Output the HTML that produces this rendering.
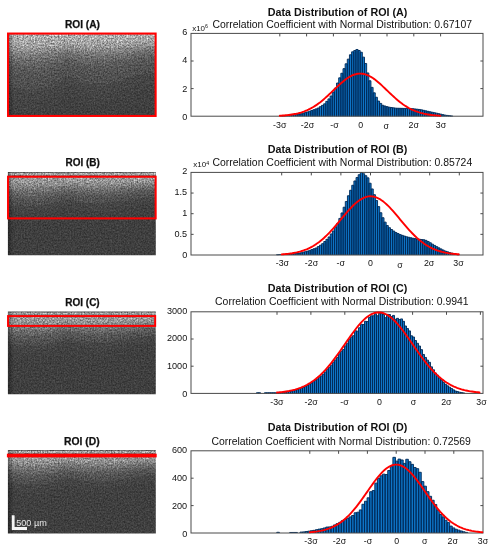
<!DOCTYPE html><html><head><meta charset="utf-8"><title>ROI data distributions</title>
<style>html,body{margin:0;padding:0;background:#fff}svg{display:block}text{font-family:"Liberation Sans",sans-serif;fill:#111}</style></head><body>
<svg width="494" height="550" viewBox="0 0 494 550">
<rect width="494" height="550" fill="#fff"/>
<defs>
<filter id="sp" x="0" y="0" width="100%" height="100%" color-interpolation-filters="sRGB">
<feTurbulence type="fractalNoise" baseFrequency="0.7 0.6" numOctaves="2" seed="11" result="t"/>
<feColorMatrix in="t" type="matrix" values="1 0 0 0 0  1 0 0 0 0  1 0 0 0 0  0 0 0 0 1" result="n"/>
<feTurbulence type="fractalNoise" baseFrequency="0.45 0.012" numOctaves="1" seed="5" result="u"/>
<feColorMatrix in="u" type="matrix" values="0 1 0 0 0  0 1 0 0 0  0 1 0 0 0  0 0 0 0 1" result="st"/>
<feColorMatrix in="SourceGraphic" type="matrix" values="1 0 0 0 0  1 0 0 0 0  1 0 0 0 0  0 0 0 0 1" result="S"/>
<feColorMatrix in="SourceGraphic" type="matrix" values="0 1 0 0 0  0 1 0 0 0  0 1 0 0 0  0 0 0 0 1" result="B"/>
<feComposite in="S" in2="n" operator="arithmetic" k1="0.96" k2="0.52" k3="0" k4="0" result="P"/>
<feComposite in="B" in2="n" operator="arithmetic" k1="1.3" k2="-0.15" k3="0" k4="0" result="R"/>
<feComposite in="R" in2="st" operator="arithmetic" k1="0.7" k2="0.65" k3="0" k4="0" result="R2"/>
<feComposite in="P" in2="R2" operator="arithmetic" k1="0" k2="1" k3="1" k4="0" result="O"/>
<feGaussianBlur in="O" stdDeviation="0.55"/>
</filter>
<filter id="bl" x="-10%" y="-30%" width="120%" height="160%"><feGaussianBlur stdDeviation="3"/></filter>
</defs>
<defs><linearGradient id="gA" x1="0" y1="0" x2="0" y2="1">
<stop offset="0" stop-color="rgb(145,62,0)"/>
<stop offset="0.06" stop-color="rgb(142,60,0)"/>
<stop offset="0.13" stop-color="rgb(133,54,0)"/>
<stop offset="0.19" stop-color="rgb(117,41,0)"/>
<stop offset="0.25" stop-color="rgb(101,29,0)"/>
<stop offset="0.31" stop-color="rgb(90,20,0)"/>
<stop offset="0.38" stop-color="rgb(82,14,0)"/>
<stop offset="0.48" stop-color="rgb(75,9,0)"/>
<stop offset="0.6" stop-color="rgb(70,6,0)"/>
<stop offset="0.78" stop-color="rgb(66,2,0)"/>
<stop offset="1" stop-color="rgb(63,0,0)"/>
</linearGradient><linearGradient id="gF" x1="0" y1="0" x2="0" y2="1">
<stop offset="0" stop-color="rgb(132,52,0)"/>
<stop offset="0.05" stop-color="rgb(130,51,0)"/>
<stop offset="0.12" stop-color="rgb(126,48,0)"/>
<stop offset="0.2" stop-color="rgb(116,40,0)"/>
<stop offset="0.27" stop-color="rgb(104,31,0)"/>
<stop offset="0.34" stop-color="rgb(93,23,0)"/>
<stop offset="0.42" stop-color="rgb(84,16,0)"/>
<stop offset="0.5" stop-color="rgb(77,10,0)"/>
<stop offset="0.62" stop-color="rgb(70,6,0)"/>
<stop offset="0.78" stop-color="rgb(66,2,0)"/>
<stop offset="1" stop-color="rgb(63,0,0)"/>
</linearGradient><linearGradient id="le" x1="0" y1="0" x2="1" y2="0"><stop offset="0" stop-color="#000" stop-opacity="0.35"/><stop offset="1" stop-color="#000" stop-opacity="0"/></linearGradient><filter id="hb" x="-10%" y="-10%" width="120%" height="120%"><feGaussianBlur stdDeviation="5 0.6"/></filter></defs>
<clipPath id="c0"><rect x="7.9" y="33.5" width="147.9" height="82.5"/></clipPath>
<g clip-path="url(#c0)"><g filter="url(#sp)">
<rect x="2.9000000000000004" y="28.5" width="157.9" height="92.5" fill="rgb(63,0,0)"/>
<g filter="url(#hb)">
<rect x="-1.34" y="33.5" width="9.54" height="89.5" fill="url(#gA)"/>
<rect x="7.90" y="33.5" width="9.54" height="92.5" fill="url(#gA)"/>
<rect x="17.14" y="33.5" width="9.54" height="95.9" fill="url(#gA)"/>
<rect x="26.39" y="33.5" width="9.54" height="98.7" fill="url(#gA)"/>
<rect x="35.63" y="33.5" width="9.54" height="95.2" fill="url(#gA)"/>
<rect x="44.88" y="33.5" width="9.54" height="91.8" fill="url(#gA)"/>
<rect x="54.12" y="33.5" width="9.54" height="83.5" fill="url(#gA)"/>
<rect x="63.36" y="33.5" width="9.54" height="75.0" fill="url(#gA)"/>
<rect x="72.61" y="33.5" width="9.54" height="82.2" fill="url(#gA)"/>
<rect x="81.85" y="33.5" width="9.54" height="86.5" fill="url(#gA)"/>
<rect x="91.09" y="33.5" width="9.54" height="87.9" fill="url(#gA)"/>
<rect x="100.34" y="33.5" width="9.54" height="88.7" fill="url(#gA)"/>
<rect x="109.58" y="33.5" width="9.54" height="84.2" fill="url(#gA)"/>
<rect x="118.83" y="33.5" width="9.54" height="79.7" fill="url(#gA)"/>
<rect x="128.07" y="33.5" width="9.54" height="74.8" fill="url(#gA)"/>
<rect x="137.31" y="33.5" width="9.54" height="69.9" fill="url(#gA)"/>
<rect x="146.56" y="33.5" width="9.54" height="68.1" fill="url(#gA)"/>
<rect x="155.80" y="33.5" width="9.54" height="66.3" fill="url(#gA)"/>
</g>
<rect x="7.9" y="33.5" width="6" height="82.5" fill="url(#le)"/>
</g></g>
<clipPath id="c1"><rect x="7.9" y="171.9" width="147.9" height="83.4"/></clipPath>
<g clip-path="url(#c1)"><g filter="url(#sp)">
<rect x="2.9000000000000004" y="166.9" width="157.9" height="93.4" fill="rgb(63,0,0)"/>
<g filter="url(#hb)">
<rect x="-1.34" y="176.4" width="9.54" height="44.8" fill="url(#gF)"/>
<rect x="7.90" y="176.4" width="9.54" height="46.3" fill="url(#gF)"/>
<rect x="17.14" y="176.4" width="9.54" height="48.0" fill="url(#gF)"/>
<rect x="26.39" y="176.4" width="9.54" height="49.4" fill="url(#gF)"/>
<rect x="35.63" y="176.4" width="9.54" height="47.7" fill="url(#gF)"/>
<rect x="44.88" y="176.4" width="9.54" height="45.9" fill="url(#gF)"/>
<rect x="54.12" y="176.4" width="9.54" height="41.8" fill="url(#gF)"/>
<rect x="63.36" y="176.4" width="9.54" height="37.5" fill="url(#gF)"/>
<rect x="72.61" y="176.4" width="9.54" height="41.1" fill="url(#gF)"/>
<rect x="81.85" y="176.4" width="9.54" height="43.3" fill="url(#gF)"/>
<rect x="91.09" y="176.4" width="9.54" height="44.0" fill="url(#gF)"/>
<rect x="100.34" y="176.4" width="9.54" height="44.4" fill="url(#gF)"/>
<rect x="109.58" y="176.4" width="9.54" height="42.1" fill="url(#gF)"/>
<rect x="118.83" y="176.4" width="9.54" height="39.9" fill="url(#gF)"/>
<rect x="128.07" y="176.4" width="9.54" height="37.4" fill="url(#gF)"/>
<rect x="137.31" y="176.4" width="9.54" height="35.0" fill="url(#gF)"/>
<rect x="146.56" y="176.4" width="9.54" height="34.1" fill="url(#gF)"/>
<rect x="155.80" y="176.4" width="9.54" height="33.2" fill="url(#gF)"/>
</g>
<rect x="7.9" y="171.9" width="147.9" height="0.9" fill="rgb(83,15,0)"/>
<rect x="7.9" y="172.8" width="147.9" height="2.4" fill="rgb(138,57,0)"/>
<rect x="7.9" y="175.1" width="147.9" height="1.3" fill="rgb(110,36,0)"/>
<rect x="7.9" y="171.9" width="6" height="83.4" fill="url(#le)"/>
</g></g>
<clipPath id="c2"><rect x="7.9" y="311.5" width="147.9" height="82.69999999999999"/></clipPath>
<g clip-path="url(#c2)"><g filter="url(#sp)">
<rect x="2.9000000000000004" y="306.5" width="157.9" height="92.69999999999999" fill="rgb(63,0,0)"/>
<g filter="url(#hb)">
<rect x="-1.34" y="316.0" width="9.54" height="44.4" fill="url(#gF)"/>
<rect x="7.90" y="316.0" width="9.54" height="45.9" fill="url(#gF)"/>
<rect x="17.14" y="316.0" width="9.54" height="47.6" fill="url(#gF)"/>
<rect x="26.39" y="316.0" width="9.54" height="49.0" fill="url(#gF)"/>
<rect x="35.63" y="316.0" width="9.54" height="47.3" fill="url(#gF)"/>
<rect x="44.88" y="316.0" width="9.54" height="45.5" fill="url(#gF)"/>
<rect x="54.12" y="316.0" width="9.54" height="41.5" fill="url(#gF)"/>
<rect x="63.36" y="316.0" width="9.54" height="37.2" fill="url(#gF)"/>
<rect x="72.61" y="316.0" width="9.54" height="40.8" fill="url(#gF)"/>
<rect x="81.85" y="316.0" width="9.54" height="42.9" fill="url(#gF)"/>
<rect x="91.09" y="316.0" width="9.54" height="43.6" fill="url(#gF)"/>
<rect x="100.34" y="316.0" width="9.54" height="44.0" fill="url(#gF)"/>
<rect x="109.58" y="316.0" width="9.54" height="41.8" fill="url(#gF)"/>
<rect x="118.83" y="316.0" width="9.54" height="39.6" fill="url(#gF)"/>
<rect x="128.07" y="316.0" width="9.54" height="37.1" fill="url(#gF)"/>
<rect x="137.31" y="316.0" width="9.54" height="34.7" fill="url(#gF)"/>
<rect x="146.56" y="316.0" width="9.54" height="33.8" fill="url(#gF)"/>
<rect x="155.80" y="316.0" width="9.54" height="32.9" fill="url(#gF)"/>
</g>
<rect x="7.9" y="311.5" width="147.9" height="0.9" fill="rgb(83,15,0)"/>
<rect x="7.9" y="312.4" width="147.9" height="2.4" fill="rgb(138,57,0)"/>
<rect x="7.9" y="314.7" width="147.9" height="1.3" fill="rgb(110,36,0)"/>
<rect x="7.9" y="311.5" width="6" height="82.69999999999999" fill="url(#le)"/>
</g></g>
<clipPath id="c3"><rect x="7.9" y="449.9" width="147.9" height="83.60000000000002"/></clipPath>
<g clip-path="url(#c3)"><g filter="url(#sp)">
<rect x="2.9000000000000004" y="444.9" width="157.9" height="93.60000000000002" fill="rgb(63,0,0)"/>
<g filter="url(#hb)">
<rect x="-1.34" y="454.4" width="9.54" height="44.9" fill="url(#gF)"/>
<rect x="7.90" y="454.4" width="9.54" height="46.4" fill="url(#gF)"/>
<rect x="17.14" y="454.4" width="9.54" height="48.1" fill="url(#gF)"/>
<rect x="26.39" y="454.4" width="9.54" height="49.5" fill="url(#gF)"/>
<rect x="35.63" y="454.4" width="9.54" height="47.8" fill="url(#gF)"/>
<rect x="44.88" y="454.4" width="9.54" height="46.0" fill="url(#gF)"/>
<rect x="54.12" y="454.4" width="9.54" height="41.9" fill="url(#gF)"/>
<rect x="63.36" y="454.4" width="9.54" height="37.6" fill="url(#gF)"/>
<rect x="72.61" y="454.4" width="9.54" height="41.2" fill="url(#gF)"/>
<rect x="81.85" y="454.4" width="9.54" height="43.4" fill="url(#gF)"/>
<rect x="91.09" y="454.4" width="9.54" height="44.1" fill="url(#gF)"/>
<rect x="100.34" y="454.4" width="9.54" height="44.5" fill="url(#gF)"/>
<rect x="109.58" y="454.4" width="9.54" height="42.2" fill="url(#gF)"/>
<rect x="118.83" y="454.4" width="9.54" height="40.0" fill="url(#gF)"/>
<rect x="128.07" y="454.4" width="9.54" height="37.5" fill="url(#gF)"/>
<rect x="137.31" y="454.4" width="9.54" height="35.1" fill="url(#gF)"/>
<rect x="146.56" y="454.4" width="9.54" height="34.2" fill="url(#gF)"/>
<rect x="155.80" y="454.4" width="9.54" height="33.3" fill="url(#gF)"/>
</g>
<rect x="7.9" y="449.9" width="147.9" height="0.9" fill="rgb(83,15,0)"/>
<rect x="7.9" y="450.79999999999995" width="147.9" height="2.4" fill="rgb(138,57,0)"/>
<rect x="7.9" y="453.09999999999997" width="147.9" height="1.3" fill="rgb(110,36,0)"/>
<rect x="7.9" y="449.9" width="6" height="83.60000000000002" fill="url(#le)"/>
</g></g>
<rect x="8.05" y="33.55" width="147.6" height="82.4" fill="none" stroke="#ff0000" stroke-width="2.05"/>
<rect x="8.05" y="176.7" width="147.6" height="41.7" fill="none" stroke="#ff0000" stroke-width="2.05"/>
<rect x="8.05" y="316.1" width="147.1" height="9.8" fill="none" stroke="#ff0000" stroke-width="2.0"/>
<rect x="6.9" y="453.7" width="149.8" height="3.7" fill="#ff0000"/>
<path d="M13.2 515.3V528.5H27" fill="none" stroke="#f4f4f4" stroke-width="2.8"/>
<text x="16.2" y="526.4" font-size="8.6" text-anchor="start" textLength="30.7" lengthAdjust="spacingAndGlyphs" style="fill:#e4e4e4">500 µm</text>
<text x="82.4" y="27.7" font-size="10.8" text-anchor="middle" font-weight="bold" textLength="35" lengthAdjust="spacingAndGlyphs" stroke="#111" stroke-width="0.25">ROI (A)</text>
<text x="82.7" y="166.1" font-size="10.8" text-anchor="middle" font-weight="bold" textLength="34.4" lengthAdjust="spacingAndGlyphs" stroke="#111" stroke-width="0.25">ROI (B)</text>
<text x="82.5" y="305.7" font-size="10.8" text-anchor="middle" font-weight="bold" textLength="34.4" lengthAdjust="spacingAndGlyphs" stroke="#111" stroke-width="0.25">ROI (C)</text>
<text x="81.8" y="444.7" font-size="10.8" text-anchor="middle" font-weight="bold" textLength="35.6" lengthAdjust="spacingAndGlyphs" stroke="#111" stroke-width="0.25">ROI (D)</text>
<g fill="#0e74c6" stroke="#012a58" stroke-width="0.92">
<path d="M280.65 116.20V115.80H282.80V116.20M282.80 116.20V115.65H284.95V116.20M284.95 116.20V115.49H287.10V116.20M287.10 116.20V115.33H289.25V116.20M289.25 116.20V115.16H291.40V116.20M291.40 116.20V114.87H293.55V116.20M293.55 116.20V114.58H295.70V116.20M295.70 116.20V114.30H297.85V116.20M297.85 116.20V114.01H300.00V116.20M300.00 116.20V113.72H302.15V116.20M302.15 116.20V113.23H304.30V116.20M304.30 116.20V112.59H306.45V116.20M306.45 116.20V111.94H308.60V116.20M308.60 116.20V111.30H310.75V116.20M310.75 116.20V110.52H312.90V116.20M312.90 116.20V109.71H315.05V116.20M315.05 116.20V108.90H317.20V116.20M317.20 116.20V108.03H319.35V116.20M319.35 116.20V106.68H321.50V116.20M321.50 116.20V105.34H323.65V116.20M323.65 116.20V103.83H325.80V116.20M325.80 116.20V101.36H327.95V116.20M327.95 116.20V98.89H330.10V116.20M330.10 116.20V95.99H332.25V116.20M332.25 116.20V92.12H334.40V116.20M334.40 116.20V88.25H336.55V116.20M336.55 116.20V83.02H338.70V116.20M338.70 116.20V77.83H340.85V116.20M340.85 116.20V73.26H343.00V116.20M343.00 116.20V68.63H345.15V116.20M345.15 116.20V63.81H347.30V116.20M347.30 116.20V59.13H349.45V116.20M349.45 116.20V54.78H351.60V116.20M351.60 116.20V51.83H353.75V116.20M353.75 116.20V50.56H355.90V116.20M355.90 116.20V49.49H358.05V116.20M358.05 116.20V50.53H360.20V116.20M360.20 116.20V52.25H362.35V116.20M362.35 116.20V57.14H364.50V116.20M364.50 116.20V63.47H366.65V116.20M366.65 116.20V72.93H368.80V116.20M368.80 116.20V80.77H370.95V116.20M370.95 116.20V87.39H373.10V116.20M373.10 116.20V92.82H375.25V116.20M375.25 116.20V97.25H377.40V116.20M377.40 116.20V101.07H379.55V116.20M379.55 116.20V103.42H381.70V116.20M381.70 116.20V105.30H383.85V116.20M383.85 116.20V106.05H386.00V116.20M386.00 116.20V106.65H388.15V116.20M388.15 116.20V107.23H390.30V116.20M390.30 116.20V107.54H392.45V116.20M392.45 116.20V107.85H394.60V116.20M394.60 116.20V108.15H396.75V116.20M396.75 116.20V108.25H398.90V116.20M398.90 116.20V108.30H401.05V116.20M401.05 116.20V108.35H403.20V116.20M403.20 116.20V108.41H405.35V116.20M405.35 116.20V108.46H407.50V116.20M407.50 116.20V108.51H409.65V116.20M409.65 116.20V108.57H411.80V116.20M411.80 116.20V108.70H413.95V116.20M413.95 116.20V108.96H416.10V116.20M416.10 116.20V109.21H418.25V116.20M418.25 116.20V109.46H420.40V116.20M420.40 116.20V109.83H422.55V116.20M422.55 116.20V110.33H424.70V116.20M424.70 116.20V110.84H426.85V116.20M426.85 116.20V111.34H429.00V116.20M429.00 116.20V111.81H431.15V116.20M431.15 116.20V112.26H433.30V116.20M433.30 116.20V112.71H435.45V116.20M435.45 116.20V113.16H437.60V116.20M437.60 116.20V113.66H439.75V116.20M439.75 116.20V114.17H441.90V116.20M441.90 116.20V114.67H444.05V116.20M444.05 116.20V115.14H446.20V116.20M446.20 116.20V115.41H448.35V116.20M448.35 116.20V115.68H450.50V116.20M450.50 116.20V115.95H452.65V116.20"/>
</g>
<rect x="191" y="33.4" width="292.0" height="82.80000000000001" fill="none" stroke="#4a4a4a" stroke-width="1"/>
<path d="M279.80 33.4v3M279.80 116.2v-0M306.60 33.4v3M306.60 116.2v-0M333.40 33.4v3M333.40 116.2v-0M360.20 33.4v3M360.20 116.2v-0M387.00 33.4v3M387.00 116.2v-0M413.80 33.4v3M413.80 116.2v-0M440.60 33.4v3M440.60 116.2v-0M191 88.60h2.6M483.0 88.60h-2.6M191 61.00h2.6M483.0 61.00h-2.6" fill="none" stroke="#4a4a4a" stroke-width="1"/>
<polyline points="279.8,115.73 281.3,115.64 282.8,115.54 284.3,115.43 285.8,115.30 287.3,115.15 288.8,114.98 290.3,114.78 291.8,114.56 293.3,114.31 294.8,114.03 296.3,113.72 297.8,113.37 299.3,112.98 300.8,112.55 302.3,112.07 303.8,111.55 305.3,110.97 306.8,110.35 308.3,109.67 309.8,108.93 311.3,108.14 312.8,107.28 314.3,106.37 315.8,105.40 317.3,104.37 318.8,103.28 320.3,102.14 321.8,100.94 323.3,99.69 324.8,98.40 326.3,97.06 327.8,95.69 329.3,94.29 330.8,92.86 332.3,91.42 333.8,89.98 335.3,88.53 336.8,87.10 338.3,85.69 339.8,84.31 341.3,82.98 342.8,81.70 344.3,80.47 345.8,79.33 347.3,78.26 348.8,77.28 350.3,76.41 351.8,75.64 353.3,74.99 354.8,74.46 356.3,74.05 357.8,73.77 359.3,73.62 360.8,73.61 362.3,73.73 363.8,73.98 365.3,74.36 366.8,74.87 368.3,75.50 369.8,76.25 371.3,77.10 372.8,78.06 374.3,79.11 375.8,80.24 377.3,81.45 378.8,82.72 380.3,84.04 381.8,85.41 383.3,86.82 384.8,88.25 386.3,89.69 387.8,91.13 389.3,92.57 390.8,94.00 392.3,95.41 393.8,96.79 395.3,98.13 396.8,99.43 398.3,100.69 399.8,101.90 401.3,103.06 402.8,104.16 404.3,105.20 405.8,106.18 407.3,107.11 408.8,107.97 410.3,108.78 411.8,109.53 413.3,110.22 414.8,110.85 416.3,111.44 417.8,111.97 419.3,112.46 420.8,112.90 422.3,113.29 423.8,113.65 425.3,113.97 426.8,114.26 428.3,114.51 429.8,114.74 431.3,114.94 432.8,115.11 434.3,115.27 435.8,115.40 437.3,115.52 438.8,115.62 440.3,115.71" fill="none" stroke="#ff0000" stroke-width="1.9" stroke-linejoin="round" stroke-linecap="round"/>
<text x="187.2" y="119.7" font-size="9.1" text-anchor="end">0</text>
<text x="187.2" y="91.5" font-size="9.1" text-anchor="end">2</text>
<text x="187.2" y="63.3" font-size="9.1" text-anchor="end">4</text>
<text x="187.2" y="35.2" font-size="9.1" text-anchor="end">6</text>
<text x="279.7" y="127.6" font-size="8.8" text-anchor="middle">-3σ</text>
<text x="307.5" y="127.6" font-size="8.8" text-anchor="middle">-2σ</text>
<text x="334.4" y="128.2" font-size="8.8" text-anchor="middle">-σ</text>
<text x="360.6" y="127.6" font-size="8.8" text-anchor="middle">0</text>
<text x="386.2" y="129.2" font-size="8.8" text-anchor="middle">σ</text>
<text x="413.7" y="127.6" font-size="8.8" text-anchor="middle">2σ</text>
<text x="441.0" y="127.6" font-size="8.8" text-anchor="middle">3σ</text>
<text x="192.2" y="30.9" font-size="7.6" textLength="15.8" lengthAdjust="spacingAndGlyphs">x10<tspan font-size="5" dy="-2.8">6</tspan></text>
<text x="337.6" y="15.8" font-size="10.5" text-anchor="middle" font-weight="bold" textLength="139.6" lengthAdjust="spacingAndGlyphs">Data Distribution of ROI (A)</text>
<text x="212.4" y="27.9" font-size="10.1" text-anchor="start" textLength="259.6" lengthAdjust="spacingAndGlyphs">Correlation Coefficient with Normal Distribution: 0.67107</text>
<g fill="#0e74c6" stroke="#012a58" stroke-width="0.92">
<path d="M276.50 255.00V254.74H278.65V255.00M278.65 255.00V254.61H280.80V255.00M280.80 255.00V254.50H282.95V255.00M282.95 255.00V254.39H285.10V255.00M285.10 255.00V254.29H287.25V255.00M287.25 255.00V254.18H289.40V255.00M289.40 255.00V254.07H291.55V255.00M291.55 255.00V253.93H293.70V255.00M293.70 255.00V253.66H295.85V255.00M295.85 255.00V253.39H298.00V255.00M298.00 255.00V253.12H300.15V255.00M300.15 255.00V252.73H302.30V255.00M302.30 255.00V252.19H304.45V255.00M304.45 255.00V251.66H306.60V255.00M306.60 255.00V251.12H308.75V255.00M308.75 255.00V250.39H310.90V255.00M310.90 255.00V249.59H313.05V255.00M313.05 255.00V248.78H315.20V255.00M315.20 255.00V247.98H317.35V255.00M317.35 255.00V246.59H319.50V255.00M319.50 255.00V245.16H321.65V255.00M321.65 255.00V243.65H323.80V255.00M323.80 255.00V241.50H325.95V255.00M325.95 255.00V239.35H328.10V255.00M328.10 255.00V236.96H330.25V255.00M330.25 255.00V233.95H332.40V255.00M332.40 255.00V230.94H334.55V255.00M334.55 255.00V227.24H336.70V255.00M336.70 255.00V223.43H338.85V255.00M338.85 255.00V218.41H341.00V255.00M341.00 255.00V212.95H343.15V255.00M343.15 255.00V207.22H345.30V255.00M345.30 255.00V201.48H347.45V255.00M347.45 255.00V195.75H349.60V255.00M349.60 255.00V190.29H351.75V255.00M351.75 255.00V185.28H353.90V255.00M353.90 255.00V180.96H356.05V255.00M356.05 255.00V177.47H358.20V255.00M358.20 255.00V174.71H360.35V255.00M360.35 255.00V172.56H362.50V255.00M362.50 255.00V173.72H364.65V255.00M364.65 255.00V175.70H366.80V255.00M366.80 255.00V177.85H368.95V255.00M368.95 255.00V183.22H371.10V255.00M371.10 255.00V188.95H373.25V255.00M373.25 255.00V194.68H375.40V255.00M375.40 255.00V200.42H377.55V255.00M377.55 255.00V206.62H379.70V255.00M379.70 255.00V212.72H381.85V255.00M381.85 255.00V217.74H384.00V255.00M384.00 255.00V222.15H386.15V255.00M386.15 255.00V225.54H388.30V255.00M388.30 255.00V227.69H390.45V255.00M390.45 255.00V229.52H392.60V255.00M392.60 255.00V231.07H394.75V255.00M394.75 255.00V232.52H396.90V255.00M396.90 255.00V233.55H399.05V255.00M399.05 255.00V234.58H401.20V255.00M401.20 255.00V235.35H403.35V255.00M403.35 255.00V236.07H405.50V255.00M405.50 255.00V236.79H407.65V255.00M407.65 255.00V237.29H409.80V255.00M409.80 255.00V237.79H411.95V255.00M411.95 255.00V238.26H414.10V255.00M414.10 255.00V238.62H416.25V255.00M416.25 255.00V238.98H418.40V255.00M418.40 255.00V239.29H420.55V255.00M420.55 255.00V239.50H422.70V255.00M422.70 255.00V239.72H424.85V255.00M424.85 255.00V240.39H427.00V255.00M427.00 255.00V241.47H429.15V255.00M429.15 255.00V242.75H431.30V255.00M431.30 255.00V244.15H433.45V255.00M433.45 255.00V245.41H435.60V255.00M435.60 255.00V246.63H437.75V255.00M437.75 255.00V247.85H439.90V255.00M439.90 255.00V248.93H442.05V255.00M442.05 255.00V250.00H444.20V255.00M444.20 255.00V251.04H446.35V255.00M446.35 255.00V251.75H448.50V255.00M448.50 255.00V252.47H450.65V255.00M450.65 255.00V253.14H452.80V255.00M452.80 255.00V253.72H454.95V255.00M454.95 255.00V254.29H457.10V255.00M457.10 255.00V254.74H459.25V255.00"/>
</g>
<rect x="191" y="172.4" width="292.0" height="82.6" fill="none" stroke="#4a4a4a" stroke-width="1"/>
<path d="M281.70 172.4v3M281.70 255v-0M311.30 172.4v3M311.30 255v-0M340.90 172.4v3M340.90 255v-0M370.50 172.4v3M370.50 255v-0M400.10 172.4v3M400.10 255v-0M429.70 172.4v3M429.70 255v-0M459.30 172.4v3M459.30 255v-0M191 234.35h2.6M483.0 234.35h-2.6M191 213.70h2.6M483.0 213.70h-2.6M191 193.05h2.6M483.0 193.05h-2.6" fill="none" stroke="#4a4a4a" stroke-width="1"/>
<polyline points="281.7,254.35 283.2,254.24 284.7,254.12 286.2,253.98 287.7,253.83 289.2,253.65 290.7,253.45 292.2,253.23 293.7,252.97 295.2,252.69 296.7,252.38 298.2,252.03 299.7,251.64 301.2,251.21 302.7,250.74 304.2,250.22 305.7,249.65 307.2,249.04 308.7,248.36 310.2,247.63 311.7,246.84 313.2,245.99 314.7,245.07 316.2,244.09 317.7,243.04 319.2,241.93 320.7,240.74 322.2,239.50 323.7,238.18 325.2,236.80 326.7,235.36 328.2,233.86 329.7,232.30 331.2,230.69 332.7,229.03 334.2,227.33 335.7,225.59 337.2,223.82 338.7,222.04 340.2,220.24 341.7,218.43 343.2,216.64 344.7,214.85 346.2,213.09 347.7,211.37 349.2,209.69 350.7,208.07 352.2,206.51 353.7,205.03 355.2,203.64 356.7,202.35 358.2,201.16 359.7,200.08 361.2,199.13 362.7,198.30 364.2,197.61 365.7,197.07 367.2,196.66 368.7,196.41 370.2,196.30 371.7,196.35 373.2,196.54 374.7,196.89 376.2,197.38 377.7,198.01 379.2,198.78 380.7,199.68 382.2,200.71 383.7,201.86 385.2,203.11 386.7,204.46 388.2,205.91 389.7,207.44 391.2,209.03 392.7,210.69 394.2,212.40 395.7,214.14 397.2,215.92 398.7,217.71 400.2,219.52 401.7,221.32 403.2,223.11 404.7,224.89 406.2,226.64 407.7,228.35 409.2,230.03 410.7,231.66 412.2,233.24 413.7,234.76 415.2,236.23 416.7,237.64 418.2,238.98 419.7,240.25 421.2,241.46 422.7,242.60 424.2,243.68 425.7,244.69 427.2,245.63 428.7,246.51 430.2,247.32 431.7,248.08 433.2,248.77 434.7,249.41 436.2,250.00 437.7,250.54 439.2,251.03 440.7,251.47 442.2,251.88 443.7,252.24 445.2,252.57 446.7,252.86 448.2,253.13 449.7,253.36 451.2,253.57 452.7,253.76 454.2,253.92 455.7,254.07 457.2,254.20 458.7,254.31" fill="none" stroke="#ff0000" stroke-width="1.9" stroke-linejoin="round" stroke-linecap="round"/>
<text x="187.2" y="258.4" font-size="9.1" text-anchor="end">0</text>
<text x="187.2" y="237.4" font-size="9.1" text-anchor="end">0.5</text>
<text x="187.2" y="216.3" font-size="9.1" text-anchor="end">1</text>
<text x="187.2" y="195.2" font-size="9.1" text-anchor="end">1.5</text>
<text x="187.2" y="174.2" font-size="9.1" text-anchor="end">2</text>
<text x="282.4" y="266.4" font-size="8.8" text-anchor="middle">-3σ</text>
<text x="311.5" y="266.4" font-size="8.8" text-anchor="middle">-2σ</text>
<text x="340.7" y="266.4" font-size="8.8" text-anchor="middle">-σ</text>
<text x="370.4" y="266.4" font-size="8.8" text-anchor="middle">0</text>
<text x="400.0" y="267.5" font-size="8.8" text-anchor="middle">σ</text>
<text x="429.1" y="266.4" font-size="8.8" text-anchor="middle">2σ</text>
<text x="458.5" y="266.4" font-size="8.8" text-anchor="middle">3σ</text>
<text x="193.3" y="167.3" font-size="7.6" textLength="15.8" lengthAdjust="spacingAndGlyphs">x10<tspan font-size="5" dy="-2.8">4</tspan></text>
<text x="337.6" y="153.3" font-size="10.5" text-anchor="middle" font-weight="bold" textLength="139.6" lengthAdjust="spacingAndGlyphs">Data Distribution of ROI (B)</text>
<text x="212.4" y="166.4" font-size="10.1" text-anchor="start" textLength="259.8" lengthAdjust="spacingAndGlyphs">Correlation Coefficient with Normal Distribution: 0.85724</text>
<g fill="#0e74c6" stroke="#012a58" stroke-width="0.92">
<path d="M256.50 393.40V392.71H258.50V393.40M258.50 393.40V392.69H260.50V393.40M264.50 393.40V392.71H266.50V393.40M266.50 393.40V392.72H268.50V393.40M268.50 393.40V392.70H270.50V393.40M270.50 393.40V392.72H272.50V393.40M272.50 393.40V392.70H274.50V393.40M274.50 393.40V392.72H276.50V393.40M276.50 393.40V392.93H278.50V393.40M278.50 393.40V392.75H280.50V393.40M280.50 393.40V392.54H282.50V393.40M282.50 393.40V392.35H284.50V393.40M284.50 393.40V392.08H286.50V393.40M286.50 393.40V391.75H288.50V393.40M288.50 393.40V391.36H290.50V393.40M290.50 393.40V391.00H292.50V393.40M292.50 393.40V390.58H294.50V393.40M294.50 393.40V389.96H296.50V393.40M296.50 393.40V389.58H298.50V393.40M298.50 393.40V388.74H300.50V393.40M300.50 393.40V388.17H302.50V393.40M302.50 393.40V387.42H304.50V393.40M304.50 393.40V386.55H306.50V393.40M306.50 393.40V385.50H308.50V393.40M308.50 393.40V384.16H310.50V393.40M310.50 393.40V383.31H312.50V393.40M312.50 393.40V381.77H314.50V393.40M314.50 393.40V380.31H316.50V393.40M316.50 393.40V378.98H318.50V393.40M318.50 393.40V377.18H320.50V393.40M320.50 393.40V375.90H322.50V393.40M322.50 393.40V374.07H324.50V393.40M324.50 393.40V371.94H326.50V393.40M326.50 393.40V369.22H328.50V393.40M328.50 393.40V367.31H330.50V393.40M330.50 393.40V365.14H332.50V393.40M332.50 393.40V362.22H334.50V393.40M334.50 393.40V359.89H336.50V393.40M336.50 393.40V357.57H338.50V393.40M338.50 393.40V353.81H340.50V393.40M340.50 393.40V351.22H342.50V393.40M342.50 393.40V349.52H344.50V393.40M344.50 393.40V345.86H346.50V393.40M346.50 393.40V343.16H348.50V393.40M348.50 393.40V339.31H350.50V393.40M350.50 393.40V336.94H352.50V393.40M352.50 393.40V335.65H354.50V393.40M354.50 393.40V330.69H356.50V393.40M356.50 393.40V331.18H358.50V393.40M358.50 393.40V327.74H360.50V393.40M360.50 393.40V324.22H362.50V393.40M362.50 393.40V324.51H364.50V393.40M364.50 393.40V321.32H366.50V393.40M366.50 393.40V321.52H368.50V393.40M368.50 393.40V317.47H370.50V393.40M370.50 393.40V315.85H372.50V393.40M372.50 393.40V315.72H374.50V393.40M374.50 393.40V313.71H376.50V393.40M376.50 393.40V315.76H378.50V393.40M378.50 393.40V313.04H380.50V393.40M380.50 393.40V313.49H382.50V393.40M382.50 393.40V314.37H384.50V393.40M384.50 393.40V317.68H386.50V393.40M386.50 393.40V314.37H388.50V393.40M388.50 393.40V314.53H390.50V393.40M390.50 393.40V316.56H392.50V393.40M392.50 393.40V315.42H394.50V393.40M394.50 393.40V319.30H396.50V393.40M396.50 393.40V318.34H398.50V393.40M398.50 393.40V319.57H400.50V393.40M400.50 393.40V318.91H402.50V393.40M402.50 393.40V321.30H404.50V393.40M404.50 393.40V325.99H406.50V393.40M406.50 393.40V328.58H408.50V393.40M408.50 393.40V330.91H410.50V393.40M410.50 393.40V335.79H412.50V393.40M412.50 393.40V336.99H414.50V393.40M414.50 393.40V340.54H416.50V393.40M416.50 393.40V343.29H418.50V393.40M418.50 393.40V346.03H420.50V393.40M420.50 393.40V349.65H422.50V393.40M422.50 393.40V354.46H424.50V393.40M424.50 393.40V357.44H426.50V393.40M426.50 393.40V360.13H428.50V393.40M428.50 393.40V362.29H430.50V393.40M430.50 393.40V366.87H432.50V393.40M432.50 393.40V369.80H434.50V393.40M434.50 393.40V373.06H436.50V393.40M436.50 393.40V375.23H438.50V393.40M438.50 393.40V377.84H440.50V393.40M440.50 393.40V380.04H442.50V393.40M442.50 393.40V382.45H444.50V393.40M444.50 393.40V384.31H446.50V393.40M446.50 393.40V385.82H448.50V393.40M448.50 393.40V387.13H450.50V393.40M450.50 393.40V388.46H452.50V393.40M452.50 393.40V389.86H454.50V393.40M454.50 393.40V390.98H456.50V393.40M456.50 393.40V391.57H458.50V393.40M458.50 393.40V392.16H460.50V393.40M460.50 393.40V392.58H462.50V393.40M462.50 393.40V392.89H464.50V393.40"/>
</g>
<rect x="191" y="311.8" width="292.0" height="81.59999999999997" fill="none" stroke="#4a4a4a" stroke-width="1"/>
<path d="M277.00 311.8v3M277.00 393.4v-0M310.90 311.8v3M310.90 393.4v-0M344.80 311.8v3M344.80 393.4v-0M378.70 311.8v3M378.70 393.4v-0M412.60 311.8v3M412.60 393.4v-0M446.50 311.8v3M446.50 393.4v-0M480.40 311.8v3M480.40 393.4v-0M191 366.20h2.6M483.0 366.20h-2.6M191 339.00h2.6M483.0 339.00h-2.6" fill="none" stroke="#4a4a4a" stroke-width="1"/>
<polyline points="277.0,392.50 278.5,392.37 280.0,392.23 281.5,392.07 283.0,391.89 284.5,391.69 286.0,391.47 287.5,391.23 289.0,390.96 290.5,390.65 292.0,390.32 293.5,389.96 295.0,389.56 296.5,389.12 298.0,388.64 299.5,388.11 301.0,387.54 302.5,386.92 304.0,386.25 305.5,385.53 307.0,384.75 308.5,383.91 310.0,383.01 311.5,382.04 313.0,381.02 314.5,379.92 316.0,378.76 317.5,377.52 319.0,376.22 320.5,374.85 322.0,373.40 323.5,371.89 325.0,370.30 326.5,368.65 328.0,366.93 329.5,365.14 331.0,363.30 332.5,361.40 334.0,359.44 335.5,357.44 337.0,355.39 338.5,353.30 340.0,351.18 341.5,349.04 343.0,346.88 344.5,344.71 346.0,342.53 347.5,340.37 349.0,338.22 350.5,336.09 352.0,334.00 353.5,331.95 355.0,329.96 356.5,328.03 358.0,326.18 359.5,324.40 361.0,322.72 362.5,321.14 364.0,319.67 365.5,318.31 367.0,317.08 368.5,315.98 370.0,315.02 371.5,314.21 373.0,313.54 374.5,313.02 376.0,312.66 377.5,312.45 379.0,312.40 380.5,312.51 382.0,312.78 383.5,313.21 385.0,313.79 386.5,314.52 388.0,315.39 389.5,316.41 391.0,317.56 392.5,318.84 394.0,320.24 395.5,321.76 397.0,323.38 398.5,325.10 400.0,326.91 401.5,328.80 403.0,330.75 404.5,332.77 406.0,334.83 407.5,336.94 409.0,339.07 410.5,341.23 412.0,343.40 413.5,345.58 415.0,347.74 416.5,349.90 418.0,352.03 419.5,354.14 421.0,356.21 422.5,358.24 424.0,360.23 425.5,362.17 427.0,364.05 428.5,365.87 430.0,367.62 431.5,369.32 433.0,370.94 434.5,372.50 436.0,373.99 437.5,375.40 439.0,376.75 440.5,378.02 442.0,379.23 443.5,380.37 445.0,381.44 446.5,382.44 448.0,383.38 449.5,384.25 451.0,385.07 452.5,385.83 454.0,386.53 455.5,387.18 457.0,387.78 458.5,388.33 460.0,388.83 461.5,389.30 463.0,389.72 464.5,390.11 466.0,390.46 467.5,390.78 469.0,391.07 470.5,391.33 472.0,391.56 473.5,391.78 475.0,391.97 476.5,392.14 478.0,392.29 479.5,392.43" fill="none" stroke="#ff0000" stroke-width="1.9" stroke-linejoin="round" stroke-linecap="round"/>
<text x="187.2" y="396.8" font-size="9.1" text-anchor="end">0</text>
<text x="187.2" y="369.1" font-size="9.1" text-anchor="end">1000</text>
<text x="187.2" y="341.3" font-size="9.1" text-anchor="end">2000</text>
<text x="187.2" y="313.6" font-size="9.1" text-anchor="end">3000</text>
<text x="276.9" y="404.9" font-size="8.8" text-anchor="middle">-3σ</text>
<text x="311.1" y="404.9" font-size="8.8" text-anchor="middle">-2σ</text>
<text x="344.5" y="404.9" font-size="8.8" text-anchor="middle">-σ</text>
<text x="379.5" y="404.9" font-size="8.8" text-anchor="middle">0</text>
<text x="413.5" y="404.9" font-size="8.8" text-anchor="middle">σ</text>
<text x="446.3" y="404.9" font-size="8.8" text-anchor="middle">2σ</text>
<text x="481.5" y="404.9" font-size="8.8" text-anchor="middle">3σ</text>
<text x="337.6" y="292.4" font-size="10.5" text-anchor="middle" font-weight="bold" textLength="139.6" lengthAdjust="spacingAndGlyphs">Data Distribution of ROI (C)</text>
<text x="215.1" y="305.4" font-size="10.1" text-anchor="start" textLength="253.5" lengthAdjust="spacingAndGlyphs">Correlation Coefficient with Normal Distribution: 0.9941</text>
<g fill="#0e74c6" stroke="#012a58" stroke-width="0.92">
<path d="M276.78 533.00V532.31H279.36V533.00M289.68 533.00V532.47H292.26V533.00M292.26 533.00V532.46H294.84V533.00M294.84 533.00V532.46H297.42V533.00M300.00 533.00V532.09H302.58V533.00M302.58 533.00V531.89H305.16V533.00M305.16 533.00V531.53H307.74V533.00M307.74 533.00V531.16H310.32V533.00M310.32 533.00V530.69H312.90V533.00M312.90 533.00V530.35H315.48V533.00M315.48 533.00V529.66H318.06V533.00M318.06 533.00V529.12H320.64V533.00M320.64 533.00V528.70H323.22V533.00M323.22 533.00V527.95H325.80V533.00M325.80 533.00V527.07H328.38V533.00M328.38 533.00V526.88H330.96V533.00M330.96 533.00V526.31H333.54V533.00M333.54 533.00V524.90H336.12V533.00M336.12 533.00V523.62H338.70V533.00M338.70 533.00V522.37H341.28V533.00M341.28 533.00V520.63H343.86V533.00M343.86 533.00V519.46H346.44V533.00M346.44 533.00V518.31H349.02V533.00M349.02 533.00V516.89H351.60V533.00M351.60 533.00V515.51H354.18V533.00M354.18 533.00V512.76H356.76V533.00M356.76 533.00V512.20H359.34V533.00M359.34 533.00V509.90H361.92V533.00M361.92 533.00V504.28H364.50V533.00M364.50 533.00V501.25H367.08V533.00M367.08 533.00V497.82H369.66V533.00M369.66 533.00V491.70H372.24V533.00M372.24 533.00V490.54H374.82V533.00M374.82 533.00V483.13H377.40V533.00M377.40 533.00V478.36H379.98V533.00M379.98 533.00V475.74H382.56V533.00M382.56 533.00V474.13H385.14V533.00M385.14 533.00V474.53H387.72V533.00M387.72 533.00V470.50H390.30V533.00M390.30 533.00V466.65H392.88V533.00M392.88 533.00V457.33H395.46V533.00M395.46 533.00V461.13H398.04V533.00M398.04 533.00V459.08H400.62V533.00M400.62 533.00V459.97H403.20V533.00M403.20 533.00V463.40H405.78V533.00M405.78 533.00V459.27H408.36V533.00M408.36 533.00V461.71H410.94V533.00M410.94 533.00V464.35H413.52V533.00M413.52 533.00V467.48H416.10V533.00M416.10 533.00V468.65H418.68V533.00M418.68 533.00V472.28H421.26V533.00M421.26 533.00V481.60H423.84V533.00M423.84 533.00V486.18H426.42V533.00M426.42 533.00V491.66H429.00V533.00M429.00 533.00V496.31H431.58V533.00M431.58 533.00V500.26H434.16V533.00M434.16 533.00V504.47H436.74V533.00M436.74 533.00V510.22H439.32V533.00M439.32 533.00V514.47H441.90V533.00M441.90 533.00V516.88H444.48V533.00M444.48 533.00V520.23H447.06V533.00M447.06 533.00V522.60H449.64V533.00M449.64 533.00V526.07H452.22V533.00M452.22 533.00V527.89H454.80V533.00M454.80 533.00V529.24H457.38V533.00M457.38 533.00V530.13H459.96V533.00M459.96 533.00V530.97H462.54V533.00M462.54 533.00V531.81H465.12V533.00M465.12 533.00V532.41H467.70V533.00"/>
</g>
<rect x="191" y="450.8" width="292.0" height="82.19999999999999" fill="none" stroke="#4a4a4a" stroke-width="1"/>
<path d="M309.80 450.8v3M309.80 533v-0M338.60 450.8v3M338.60 533v-0M367.40 450.8v3M367.40 533v-0M396.20 450.8v3M396.20 533v-0M425.00 450.8v3M425.00 533v-0M453.80 450.8v3M453.80 533v-0M191 505.60h2.6M483.0 505.60h-2.6M191 478.20h2.6M483.0 478.20h-2.6" fill="none" stroke="#4a4a4a" stroke-width="1"/>
<polyline points="309.8,532.24 311.3,532.11 312.8,531.97 314.3,531.80 315.8,531.61 317.3,531.40 318.8,531.15 320.3,530.88 321.8,530.57 323.3,530.22 324.8,529.83 326.3,529.40 327.8,528.92 329.3,528.39 330.8,527.81 332.3,527.16 333.8,526.46 335.3,525.69 336.8,524.85 338.3,523.93 339.8,522.95 341.3,521.88 342.8,520.74 344.3,519.51 345.8,518.21 347.3,516.82 348.8,515.35 350.3,513.79 351.8,512.16 353.3,510.45 354.8,508.66 356.3,506.80 357.8,504.88 359.3,502.90 360.8,500.86 362.3,498.79 363.8,496.67 365.3,494.53 366.8,492.38 368.3,490.22 369.8,488.06 371.3,485.93 372.8,483.83 374.3,481.77 375.8,479.78 377.3,477.85 378.8,476.01 380.3,474.27 381.8,472.64 383.3,471.13 384.8,469.75 386.3,468.52 387.8,467.45 389.3,466.54 390.8,465.79 392.3,465.22 393.8,464.84 395.3,464.63 396.8,464.61 398.3,464.78 399.8,465.13 401.3,465.66 402.8,466.37 404.3,467.25 405.8,468.30 407.3,469.50 408.8,470.84 410.3,472.33 411.8,473.93 413.3,475.65 414.8,477.48 416.3,479.38 417.8,481.37 419.3,483.41 420.8,485.51 422.3,487.64 423.8,489.79 425.3,491.95 426.8,494.10 428.3,496.25 429.8,498.37 431.3,500.45 432.8,502.50 434.3,504.49 435.8,506.42 437.3,508.29 438.8,510.09 440.3,511.82 441.8,513.47 443.3,515.04 444.8,516.53 446.3,517.94 447.8,519.26 449.3,520.50 450.8,521.66 452.3,522.74 453.8,523.74 455.3,524.67 456.8,525.52 458.3,526.31 459.8,527.03 461.3,527.68 462.8,528.28 464.3,528.82 465.8,529.31 467.3,529.75 468.8,530.15 470.3,530.50 471.8,530.82 473.3,531.10 474.8,531.35 476.3,531.57 477.8,531.76 479.3,531.94 480.8,532.09 482.3,532.22" fill="none" stroke="#ff0000" stroke-width="1.9" stroke-linejoin="round" stroke-linecap="round"/>
<text x="187.2" y="536.5" font-size="9.1" text-anchor="end">0</text>
<text x="187.2" y="508.5" font-size="9.1" text-anchor="end">200</text>
<text x="187.2" y="480.5" font-size="9.1" text-anchor="end">400</text>
<text x="187.2" y="452.6" font-size="9.1" text-anchor="end">600</text>
<text x="311.0" y="544.4" font-size="8.8" text-anchor="middle">-3σ</text>
<text x="339.5" y="544.4" font-size="8.8" text-anchor="middle">-2σ</text>
<text x="367.9" y="544.4" font-size="8.8" text-anchor="middle">-σ</text>
<text x="396.6" y="544.4" font-size="8.8" text-anchor="middle">0</text>
<text x="424.6" y="544.4" font-size="8.8" text-anchor="middle">σ</text>
<text x="452.7" y="544.4" font-size="8.8" text-anchor="middle">2σ</text>
<text x="482.9" y="544.4" font-size="8.8" text-anchor="middle">3σ</text>
<text x="337.6" y="430.5" font-size="10.5" text-anchor="middle" font-weight="bold" textLength="139.6" lengthAdjust="spacingAndGlyphs">Data Distribution of ROI (D)</text>
<text x="211.4" y="444.9" font-size="10.1" text-anchor="start" textLength="259.5" lengthAdjust="spacingAndGlyphs">Correlation Coefficient with Normal Distribution: 0.72569</text>
</svg></body></html>
